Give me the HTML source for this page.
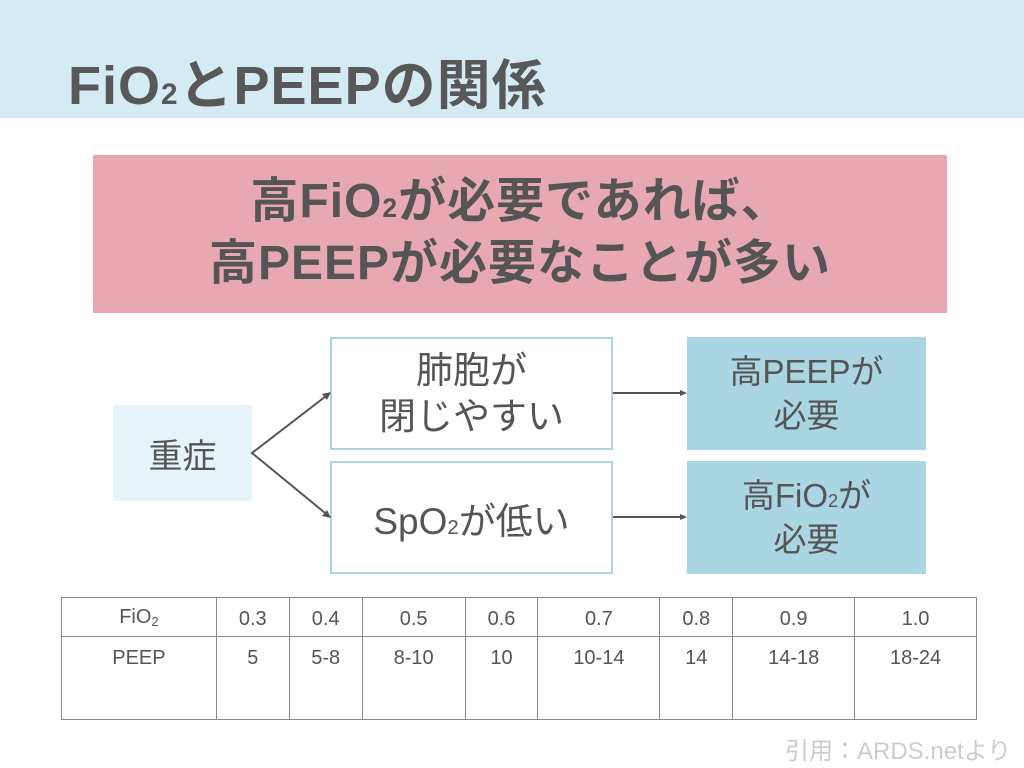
<!DOCTYPE html>
<html><head><meta charset="utf-8"><style>
*{margin:0;padding:0;box-sizing:border-box}
body{width:1024px;height:768px;background:#fff;position:relative;overflow:hidden;font-family:"Liberation Sans","Noto Sans CJK JP",sans-serif;color:#555}
.abs{position:absolute}
.hdr{left:0;top:0;width:1024px;height:118px;background:#d5ebf3}
.title{left:68px;top:54px;font-size:54px;font-weight:bold;color:#585858;line-height:64px;letter-spacing:1px}
.pink{left:93px;top:155px;width:854px;height:158px;background:#e8a8b3;text-align:center;font-size:48px;font-weight:bold;line-height:62px;padding-top:16px;color:#555;letter-spacing:1px}
.box{display:flex;align-items:center;justify-content:center;text-align:center;color:#555}
sub{font-size:0.55em;vertical-align:baseline;line-height:0}
table{position:absolute;left:61px;top:597px;width:916px;border-collapse:collapse;font-size:20px;color:#555}
td{border:1px solid #888;text-align:center;vertical-align:top;padding-top:10px}
.credit{left:785px;top:731px;font-size:24px;color:#ccc}
</style></head><body>
<div class="abs hdr"></div>
<div class="abs title">FiO<sub>2</sub>とPEEPの関係</div>
<div class="abs pink">高FiO<sub>2</sub>が必要であれば、<br>高PEEPが必要なことが多い</div>
<div class="abs box" style="left:113px;top:405px;width:139px;height:96px;background:#e6f3f9;font-size:34px">重症</div>
<div class="abs box" style="left:330px;top:337px;width:283px;height:113px;border:2px solid #aad6e2;font-size:37px;line-height:46px"><div>肺胞が<br>閉じやすい</div></div>
<div class="abs box" style="left:330px;top:461px;width:283px;height:113px;border:2px solid #aad6e2;font-size:37px"><div>SpO<sub>2</sub>が低い</div></div>
<div class="abs box" style="left:687px;top:337px;width:239px;height:113px;background:#a9d6e2;font-size:33px;line-height:44px"><div>高PEEPが<br>必要</div></div>
<div class="abs box" style="left:687px;top:461px;width:239px;height:113px;background:#a9d6e2;font-size:33px;line-height:44px"><div>高FiO<sub>2</sub>が<br>必要</div></div>
<svg class="abs" style="left:0;top:0" width="1024" height="768">
<g stroke="#555" stroke-width="2" fill="none">
<polyline points="330,393 252,453 330,517"/>
<line x1="613" y1="393" x2="684" y2="393"/>
<line x1="613" y1="517" x2="684" y2="517"/>
</g>
<g fill="#555">
<polygon points="331,392 322,394 327,400"/>
<polygon points="331,518 322,516 327,510"/>
<polygon points="687,393 680,390 680,396"/>
<polygon points="687,517 680,514 680,520"/>
</g>
</svg>
<table>
<colgroup><col style="width:155px"><col style="width:73px"><col style="width:73px"><col style="width:103px"><col style="width:73px"><col style="width:122px"><col style="width:73px"><col style="width:122px"><col style="width:122px"></colgroup>
<tr style="height:39px"><td style="padding-top:8px">FiO<sub style="font-size:13px;vertical-align:-3px">2</sub></td><td>0.3</td><td>0.4</td><td>0.5</td><td>0.6</td><td>0.7</td><td>0.8</td><td>0.9</td><td>1.0</td></tr>
<tr style="height:83px"><td>PEEP</td><td>5</td><td>5-8</td><td>8-10</td><td>10</td><td>10-14</td><td>14</td><td>14-18</td><td>18-24</td></tr>
</table>
<div class="abs credit">引用：ARDS.netより</div>
</body></html>
